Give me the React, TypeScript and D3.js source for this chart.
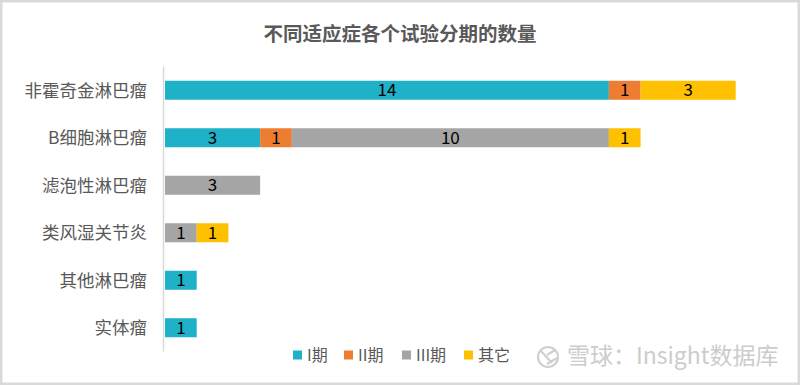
import * as d3 from "d3";

const W = 800;
const H = 385;

const categories = ["非霍奇金淋巴瘤", "B细胞淋巴瘤", "滤泡性淋巴瘤", "类风湿关节炎", "其他淋巴瘤", "实体瘤"];
const phases = ["I期", "II期", "III期", "其它"];
const phase1 = [14, 3, 0, 0, 1, 1];
const phase2 = [1, 1, 0, 0, 0, 0];
const phase3 = [0, 10, 3, 1, 0, 0];
const other = [3, 1, 0, 1, 0, 0];
const colors = ["#1fb1c8", "#ed7d31", "#a5a5a5", "#ffc000"];

const FONT = "'Noto Sans CJK SC', 'Noto Sans', sans-serif";
const TEXT = "#595959";

export default function App() {
  const series = [phase1, phase2, phase3, other];
  const rows = categories.map((c, i) => {
    const r: Record<string, number | string> = { cat: c };
    phases.forEach((p, k) => (r[p] = series[k][i]));
    return r;
  });
  const stack = d3.stack<Record<string, number | string>>().keys(phases)(rows);

  const x = d3.scaleLinear().domain([0, 18]).range([165, 735.7]);
  const y = d3
    .scaleBand<string>()
    .domain(categories)
    .range([66.5, 351.5])
    .paddingInner(0.6)
    .paddingOuter(0.3);

  const legendX = [293, 344, 402, 464];

  return (
    <div style={{ position: "fixed", left: 0, top: 0 }}>
      <svg width={W} height={H} style={{ display: "block" }}>
        <rect x={0} y={0} width={W} height={H} fill="#ffffff" />
        <rect x={1} y={1} width={W - 2} height={H - 2} fill="none" stroke="#d9d9d9" strokeWidth={3} />
        <text
          x={400}
          y={40.5}
          textAnchor="middle"
          fontFamily={FONT}
          fontSize={19.5}
          fontWeight="bold"
          fill={TEXT}
        >
          不同适应症各个试验分期的数量
        </text>

        {/* bars */}
        {stack.map((s, k) =>
          s.map((d, i) => {
            const v = d[1] - d[0];
            if (v <= 0) return null;
            const cat = categories[i];
            const x0 = x(d[0]);
            const x1 = x(d[1]);
            const yy = y(cat)!;
            return (
              <g key={`${k}-${i}`}>
                <rect x={x0} y={yy} width={x1 - x0} height={y.bandwidth()} fill={colors[k]} />
                <text
                  x={(x0 + x1) / 2}
                  y={yy + y.bandwidth() / 2}
                  dy="0.36em"
                  textAnchor="middle"
                  fontFamily={FONT}
                  fontSize={17}
                  fill="#000000"
                >
                  {v}
                </text>
              </g>
            );
          })
        )}

        {/* axis */}
        <line x1={163.5} x2={163.5} y1={y.range()[0]} y2={y.range()[1]} stroke="#d9d9d9" strokeWidth={1.5} />
        {categories.map((c) => (
          <text
            key={c}
            x={147}
            y={y(c)! + y.bandwidth() / 2}
            dy="0.36em"
            textAnchor="end"
            fontFamily={FONT}
            fontSize={17.5}
            fill={TEXT}
          >
            {c}
          </text>
        ))}

        {/* legend */}
        {phases.map((p, k) => (
          <g key={p}>
            <rect x={legendX[k]} y={350.5} width={9} height={9} fill={colors[k]} />
            <text x={legendX[k] + 14} y={355} dy="0.36em" fontFamily={FONT} fontSize={16} fill={TEXT}>
              {p}
            </text>
          </g>
        ))}

        {/* watermark */}
        <g>
          <circle cx={548} cy={357} r={10} fill="none" stroke="#d0d0d0" strokeWidth={2.2} />
          <path d="M541 351 L552 363 M547 355 L555 350 M547 364 L557 358" stroke="#d0d0d0" strokeWidth={2.2} fill="none" />
          <text x={567} y={356} dy="0.36em" fontFamily={FONT} fontSize={23} fill="#cccccc">
            雪球：Insight数据库
          </text>
        </g>
      </svg>
    </div>
  );
}
